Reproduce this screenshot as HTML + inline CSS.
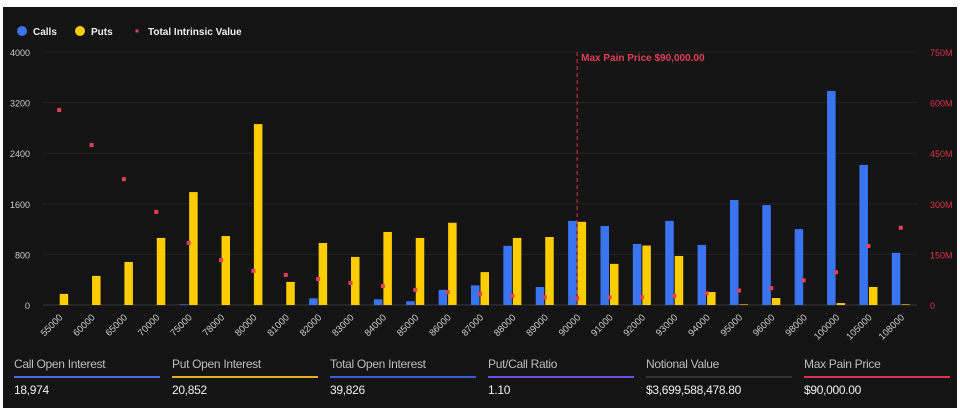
<!DOCTYPE html>
<html><head><meta charset="utf-8"><style>
body{margin:0;background:#fff;width:960px;height:414px;overflow:hidden;font-family:"Liberation Sans",sans-serif}
#panel{position:absolute;left:3px;top:7px;width:954px;height:401px;background:#141414}
.stat{position:absolute;top:357px;width:146px}
.stat .l{color:#bdbdbd;font-size:12px;height:14px;letter-spacing:-0.3px}
.stat .b{height:2px;margin-top:5px}
.stat .v{color:#eee;font-size:12px;margin-top:5px;letter-spacing:-0.3px}
</style></head><body>
<div id="panel"></div>
<svg id="chart" width="960" height="414" style="position:absolute;left:0;top:0"></svg>
<div class="stat" style="left:14px"><div class="l">Call Open Interest</div><div class="b" style="background:#4a6ee0"></div><div class="v">18,974</div></div>
<div class="stat" style="left:172px"><div class="l">Put Open Interest</div><div class="b" style="background:#e0b020"></div><div class="v">20,852</div></div>
<div class="stat" style="left:330px"><div class="l">Total Open Interest</div><div class="b" style="background:#3a5ed0"></div><div class="v">39,826</div></div>
<div class="stat" style="left:488px"><div class="l">Put/Call Ratio</div><div class="b" style="background:#6a50d8"></div><div class="v">1.10</div></div>
<div class="stat" style="left:646px"><div class="l">Notional Value</div><div class="b" style="background:#333"></div><div class="v">$3,699,588,478.80</div></div>
<div class="stat" style="left:804px"><div class="l">Max Pain Price</div><div class="b" style="background:#d8334a"></div><div class="v">$90,000.00</div></div>
<script>
const categories=["55000","60000","65000","70000","75000","78000","80000","81000","82000","83000","84000","85000","86000","87000","88000","89000","90000","91000","92000","93000","94000","95000","96000","98000","100000","105000","108000"];
const calls=[0,0,0,0,10,0,0,0,105,0,90,60,240,310,935,285,1330,1250,965,1330,950,1660,1580,1200,3385,2215,825];
const puts=[175,460,680,1060,1785,1090,2860,365,980,760,1155,1060,1300,520,1060,1075,1315,650,940,775,205,10,110,0,30,285,10];
const intrinsic=[578,474,373,276,184,133,101,89,77,65,56,45,38,33,27,23,20,23,23,27,35,43,50,73,97,175,229];
const leftTicks=[0,800,1600,2400,3200,4000];
const rightTicks=[0,150,300,450,600,750];
const maxPainCategory="90000";
const svg=document.getElementById('chart');const NS='http://www.w3.org/2000/svg';
const X0=43,X1=917,Y0=305,Y1=52;
const step=(X1-X0)/categories.length;
const xc=i=>X0+step*(i+0.5);
const yL=v=>Y0-(v/4000)*(Y0-Y1);
const yR=v=>Y0-(v/750)*(Y0-Y1);
function mk(t,a,txt){const e=document.createElementNS(NS,t);for(const k in a)e.setAttribute(k,a[k]);if(txt!==undefined)e.textContent=txt;svg.appendChild(e);return e;}
leftTicks.forEach((t,i)=>{
 const g=mk('line',{x1:X0,x2:X1,y1:yL(t),y2:yL(t),stroke:i==0?'#3a3a3a':'#222','stroke-width':1});
 
 
 const l=mk('text',{x:30,y:yL(t)+4,fill:'#ccc','font-size':9,'text-anchor':'end'},t);
 
 
});
rightTicks.forEach(t=>{
 const l=mk('text',{x:930,y:yR(t)+4,fill:'#d8334a','font-size':9},t==0?'0':t+'M');
 
 
});
const bw=8.5;
categories.forEach((c,i)=>{
 const x=xc(i);
 if(calls[i]>0){const r=mk('rect',{x:x-bw-0.5,y:yL(calls[i]),width:bw,height:Y0-yL(calls[i]),fill:'#3b74f0'});
 
 }
 if(puts[i]>0){const r=mk('rect',{x:x+0.5,y:yL(puts[i]),width:bw,height:Y0-yL(puts[i]),fill:'#ffcc00'});
 
 }
 const d=mk('rect',{x:x-2,y:yR(intrinsic[i])-2,width:4,height:4,fill:'#e0405a'});
 
 
 const t=mk('text',{x:x+4,y:318,fill:'#ccc','font-size':9.5,'text-anchor':'end',transform:`rotate(-45 ${x+4} 318)`},c);
 
 
});
const mi=categories.indexOf(maxPainCategory);const mx=xc(mi);
const ml=mk('line',{x1:mx,x2:mx,y1:Y1,y2:Y0,stroke:'#d8334a','stroke-dasharray':'4,3','stroke-width':1});


const mt=mk('text',{x:mx+4,y:61,fill:'#e0405a','font-size':10,'font-weight':'bold'},'Max Pain Price $90,000.00');


const legend=[['Calls','#3b74f0',22,'c'],['Puts','#ffcc00',80,'c'],['Total Intrinsic Value','#e0405a',137,'s']];
legend.forEach(([n,col,x,k])=>{
 const g=document.createElementNS(NS,'g');svg.appendChild(g);
 
 
 const m=k=='c'?document.createElementNS(NS,'circle'):document.createElementNS(NS,'rect');
 if(k=='c'){m.setAttribute('cx',x);m.setAttribute('cy',31);m.setAttribute('r',5);}else{m.setAttribute('x',x-1.5);m.setAttribute('y',29.5);m.setAttribute('width',3);m.setAttribute('height',3);}
 m.setAttribute('fill',col);g.appendChild(m);
 const t=document.createElementNS(NS,'text');t.setAttribute('x',x+11);t.setAttribute('y',35);t.setAttribute('fill','#eee');t.setAttribute('font-size',10);t.setAttribute('font-weight','bold');t.textContent=n;g.appendChild(t);
});
</script>
</body></html>
